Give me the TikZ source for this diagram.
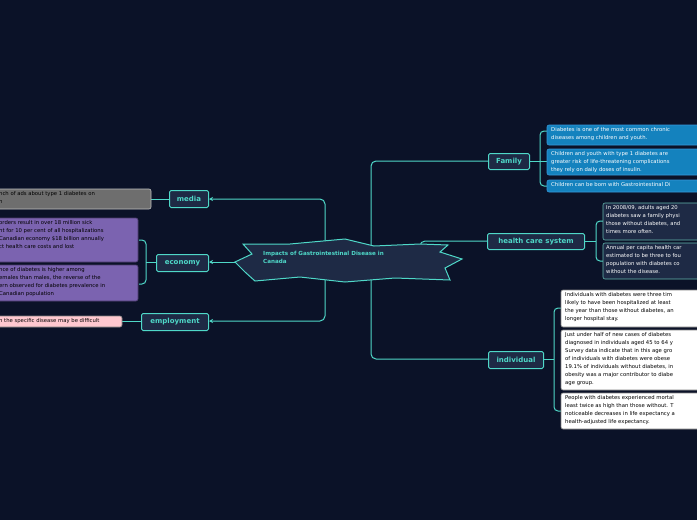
\documentclass[tikz,border=0pt]{standalone}
\usepackage{fontspec}
\setmainfont{DejaVu Sans}
\usetikzlibrary{arrows.meta}
\definecolor{bg}{HTML}{0B1228}
\definecolor{ln}{HTML}{4FD8C8}
\definecolor{nodefill}{HTML}{1E2A45}
\definecolor{blueleaf}{HTML}{1482BE}
\definecolor{purp}{HTML}{7B63B0}
\definecolor{grayleaf}{HTML}{6E6E6E}
\definecolor{pinkleaf}{HTML}{FFC8D0}
\tikzset{
  x=1pt,y=-1pt,
  conn/.style={ln,line width=1pt,rounded corners=5pt},
  arr/.style={conn,-{Stealth[length=4pt,width=4pt]}},
  main/.style={draw=ln,fill=nodefill,line width=1pt,rounded corners=1.5pt,text=ln,font=\fontsize{7}{8}\selectfont\bfseries,inner sep=0pt,anchor=north west},
  leaf/.style={rounded corners=2pt,line width=0.6pt,anchor=north west,align=left,inner sep=0pt},
  txt/.style={anchor=north west,align=left,inner sep=0pt,font=\fontsize{5.3}{8}\selectfont},
}
\begin{document}
\begin{tikzpicture}
\fill[bg] (0,0) rectangle (697,520);
\clip (0,0) rectangle (697,520);
\useasboundingbox (0,0) rectangle (697,520);
% connectors (behind)
\coordinate (c) at (348,262);
\draw[conn] (371,245) -- (371,161) -- (488,161);
\draw[conn] (371,278) -- (371,359) -- (488,359);
\draw[conn] (420,245) -- (420,241) -- (487,241);
\draw[arr] (325,247) -- (325,199) -- (209,199);
\draw[arr] (325,278) -- (325,321) -- (209,321);
\draw[arr] (236,262) -- (209,262);
% center star
\draw[ln,line width=1pt,fill=nodefill] (235,262) -- (252,254) -- (243,244) -- (290,244) -- (345,239) -- (374,246) -- (420,244) -- (448,245) -- (440,252) -- (462,259) -- (445,268) -- (450,280) -- (395,278) -- (345,282) -- (300,277) -- (255,281) -- (245,272) -- cycle;
\node[txt,text=ln,font=\fontsize{5.6}{8}\selectfont\bfseries] (center) at (263,251) {Impacts of Gastrointestinal Disease in\\Canada};
% main nodes
\node[main,minimum width=41pt,minimum height=16pt] (family) at (488,153) {Family};
\node[main,minimum width=97pt,minimum height=16pt] (hcs) at (487,233) {health care system};
\node[main,minimum width=55pt,minimum height=17pt] (ind) at (488,351) {individual};
\node[main,minimum width=39pt,minimum height=17pt] (media) at (169,190) {media};
\node[main,minimum width=52pt,minimum height=17pt] (econ) at (156,254) {economy};
\node[main,minimum width=67pt,minimum height=17pt] (emp) at (141,313) {employment};
% brackets
\draw[conn,rounded corners=4pt] (529,161) -- (540,161);
\draw[conn,rounded corners=4pt] (547,131) -- (540,131) -- (540,186) -- (547,186);
\draw[conn] (540,161) -- (547,161);
\draw[conn] (584,241) -- (596,241);
\draw[conn,rounded corners=4pt] (603,221) -- (596,221) -- (596,261) -- (603,261);
\draw[conn] (543,359) -- (554,359);
\draw[conn,rounded corners=4pt] (561,308) -- (554,308) -- (554,411) -- (561,411);
\draw[conn] (156,262) -- (146,262);
\draw[conn,rounded corners=4pt] (139,240) -- (146,240) -- (146,284) -- (139,284);
\draw[conn] (151,199) -- (169,199);
\draw[conn] (122,321) -- (141,321);
% right leaves
\fill[blueleaf,draw=ln!70!blue,leaf] (547,125) rectangle (710,145);
\node[txt,text=white] (f1) at (551,127) {Diabetes is one of the most common chronic\\diseases among children and youth.};
\fill[blueleaf,draw=ln!70!blue,leaf] (547,149) rectangle (710,175);
\node[txt,text=white] (f2) at (551,151) {Children and youth with type 1 diabetes are\\greater risk of life-threatening complications\\they rely on daily doses of insulin.};
\fill[blueleaf,draw=ln!70!blue,leaf] (547,180) rectangle (710,192);
\node[txt,text=white] (f3) at (551,182) {Children can be born with Gastrointestinal Di};
\fill[nodefill,draw=ln!60!gray,leaf] (603,203) rectangle (710,240);
\node[txt,text=white] (h1) at (606,205) {In 2008/09, adults aged 20\\diabetes saw a family physi\\those without diabetes, and\\times more often.};
\fill[nodefill,draw=ln!60!gray,leaf] (603,243) rectangle (710,279);
\node[txt,text=white] (h2) at (606,245) {Annual per capita health car\\estimated to be three to fou\\population with diabetes co\\without the disease.};
\fill[white,draw=gray,leaf] (561,290) rectangle (710,327);
\node[txt,text=black] (i1) at (565,292) {Individuals with diabetes were three tim\\likely to have been hospitalized at least\\the year than those without diabetes, an\\longer hospital stay.};
\fill[white,draw=gray,leaf] (561,330) rectangle (710,390);
\node[txt,text=black] (i2) at (565,332) {Just under half of new cases of diabetes\\diagnosed in individuals aged 45 to 64 y\\Survey data indicate that in this age gro\\of individuals with diabetes were obese\\19.1\% of individuals without diabetes, in\\obesity was a major contributor to diabe\\age group.};
\fill[white,draw=gray,leaf] (561,393) rectangle (710,429);
\node[txt,text=black] (i3) at (565,395) {People with diabetes experienced mortal\\least twice as high than those without. T\\noticeable decreases in life expectancy a\\health-adjusted life expectancy.};
% left leaves
\fill[grayleaf,draw=gray!50,leaf] (-10,189) rectangle (151,209);
\node[txt,text=black] (m1) at (-1,191) {nch of ads about type 1 diabetes on\\n};
\fill[purp,draw=purp!60!black,leaf] (-10,218) rectangle (138,262);
\node[txt,text=black] (e1) at (-1,220) {orders result in over 18 million sick\\nt for 10 per cent of all hospitalizations\\ Canadian economy \$18 billion annually\\ct health care costs and lost};
\fill[purp,draw=purp!60!black,leaf] (-10,265) rectangle (138,301);
\node[txt,text=black] (e2) at (-1,267) {nce of diabetes is higher among\\emales than males, the reverse of the\\ern observed for diabetes prevalence in\\ Canadian population};
\fill[pinkleaf,draw=gray,leaf] (-10,316) rectangle (122,327);
\node[txt,text=black] (p1) at (-1,318) {n the specific disease may be difficult};
\end{tikzpicture}
\end{document}
